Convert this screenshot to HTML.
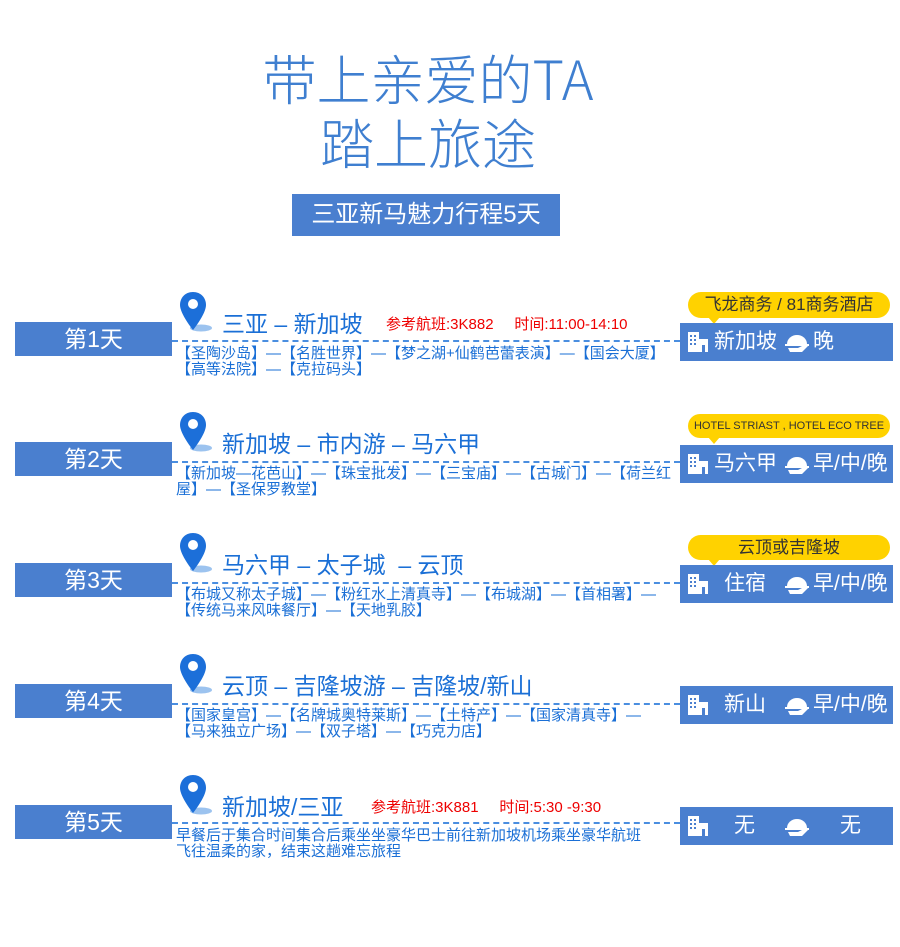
<!DOCTYPE html>
<html><head><meta charset="utf-8"><style>
body{margin:0;width:900px;height:947px;background:#fff;position:relative;overflow:hidden;font-family:"Liberation Sans","Noto Sans CJK SC",sans-serif;}
.a{position:absolute;white-space:nowrap}
.lbl{position:absolute;left:15px;width:157px;height:34px;background:#4a7fcf;color:#fff;font-size:23px;line-height:34px;text-align:center}
.ttl{position:absolute;left:222px;font-size:23px;color:#1a6fd6;white-space:nowrap}
.red{position:absolute;font-size:15px;color:#e00;white-space:nowrap}
.dash{position:absolute;left:172px;width:508px;border-top:2px dashed #4a8ee0}
.it{position:absolute;left:176px;width:502px;font-size:15px;line-height:16px;color:#1a6fd6}
.rb{position:absolute;left:680px;width:213px;height:38px;background:#4a7fcf;color:#fff;font-size:21px;line-height:38px}
.bub{position:absolute;background:#ffd200;border-radius:14px;color:#333;text-align:center;white-space:nowrap}
.bub:after{content:"";position:absolute;left:20px;bottom:-6px;border-left:6px solid transparent;border-right:6px solid transparent;border-top:7px solid #ffd200}
.pin{position:absolute;left:177px;width:36px;height:44px}
.hd{font-family:"Noto Sans CJK SC","Liberation Sans",sans-serif;font-weight:300}
</style></head><body>
<div class="a hd" style="left:0;width:856px;text-align:center;top:42px;font-size:54px;color:#3f7fd0;line-height:70px">带上亲爱的TA</div>
<div class="a hd" style="left:0;width:856px;text-align:center;top:106px;font-size:54px;color:#3f7fd0;line-height:70px">踏上旅途</div>
<div class="a" style="left:292px;top:194px;width:268px;height:42px;background:#4a7fcf;color:#fff;font-size:24px;line-height:42px;text-align:center">三亚新马魅力行程5天</div>

<svg width="0" height="0" style="position:absolute"><defs>
<symbol id="pin" viewBox="0 0 36 44"><ellipse cx="24" cy="38" rx="11" ry="3.5" fill="#9cc3ef"/><path d="M16 2C8 2 3 8 3 15c0 9 13 25 13 25s13-16 13-25C29 8 24 2 16 2z" fill="#1c6fd9"/><circle cx="16" cy="14" r="5" fill="#fff"/></symbol>
<symbol id="bld" viewBox="0 0 22 22"><rect x="1" y="1" width="11" height="20" fill="#fff"/><rect x="12" y="8" width="9" height="13" fill="#fff"/><g fill="#4a7fcf"><rect x="3" y="4" width="2" height="2"/><rect x="7" y="4" width="2" height="2"/><rect x="3" y="8" width="2" height="2"/><rect x="7" y="8" width="2" height="2"/><rect x="3" y="12" width="2" height="2"/><rect x="7" y="12" width="2" height="2"/><rect x="15" y="14" width="3" height="7"/></g></symbol>
<symbol id="dish" viewBox="0 0 26 22"><path d="M3 12a10 9 0 0 1 20 0z" fill="#fff"/><rect x="1" y="12" width="24" height="2" fill="#fff"/><path d="M4 16h10l4-2h6l-6 6H6z" fill="#fff"/></symbol>
</defs></svg>

<!-- Day1 -->
<div class="lbl" style="top:322px">第1天</div>
<svg class="pin" style="top:290px"><use href="#pin"/></svg>
<div class="ttl" style="top:305px">三亚 – 新加坡</div>
<div class="red" style="left:386px;top:313px">参考航班:3K882 &nbsp;&nbsp;&nbsp; 时间:11:00-14:10</div>
<div class="dash" style="top:340px"></div>
<div class="it" style="top:346px">【圣陶沙岛】—【名胜世界】—【梦之湖+仙鹤芭蕾表演】—【国会大厦】<br>【高等法院】—【克拉码头】</div>
<div class="bub" style="left:688px;top:292px;width:202px;height:26px;font-size:17px;line-height:26px">飞龙商务 / 81商务酒店</div>
<div class="rb" style="top:323px"><svg style="position:absolute;left:7px;top:8px" width="22" height="22"><use href="#bld"/></svg><span class="a" style="left:34px">新加坡</span><svg style="position:absolute;left:104px;top:9px" width="26" height="22"><use href="#dish"/></svg><span class="a" style="left:133px">晚</span></div>

<!-- Day2 -->
<div class="lbl" style="top:442px">第2天</div>
<svg class="pin" style="top:410px"><use href="#pin"/></svg>
<div class="ttl" style="top:425px">新加坡 – 市内游 – 马六甲</div>
<div class="dash" style="top:461px"></div>
<div class="it" style="top:466px">【新加坡—花芭山】—【珠宝批发】—【三宝庙】—【古城门】—【荷兰红屋】—【圣保罗教堂】</div>
<div class="bub" style="left:688px;top:414px;width:202px;height:24px;font-size:11px;line-height:24px">HOTEL STRIAST , HOTEL ECO TREE</div>
<div class="rb" style="top:445px"><svg style="position:absolute;left:7px;top:8px" width="22" height="22"><use href="#bld"/></svg><span class="a" style="left:34px">马六甲</span><svg style="position:absolute;left:104px;top:9px" width="26" height="22"><use href="#dish"/></svg><span class="a" style="left:133px">早/中/晚</span></div>

<!-- Day3 -->
<div class="lbl" style="top:563px">第3天</div>
<svg class="pin" style="top:531px"><use href="#pin"/></svg>
<div class="ttl" style="top:546px">马六甲 – 太子城 &nbsp;– 云顶</div>
<div class="dash" style="top:582px"></div>
<div class="it" style="top:587px">【布城又称太子城】—【粉红水上清真寺】—【布城湖】—【首相署】—<br>【传统马来风味餐厅】—【天地乳胶】</div>
<div class="bub" style="left:688px;top:535px;width:202px;height:25px;font-size:17px;line-height:25px">云顶或吉隆坡</div>
<div class="rb" style="top:565px"><svg style="position:absolute;left:7px;top:8px" width="22" height="22"><use href="#bld"/></svg><span class="a" style="left:44px">住宿</span><svg style="position:absolute;left:104px;top:9px" width="26" height="22"><use href="#dish"/></svg><span class="a" style="left:133px">早/中/晚</span></div>

<!-- Day4 -->
<div class="lbl" style="top:684px">第4天</div>
<svg class="pin" style="top:652px"><use href="#pin"/></svg>
<div class="ttl" style="top:667px">云顶 – 吉隆坡游 – 吉隆坡/新山</div>
<div class="dash" style="top:703px"></div>
<div class="it" style="top:708px">【国家皇宫】—【名牌城奥特莱斯】—【土特产】—【国家清真寺】—<br>【马来独立广场】—【双子塔】—【巧克力店】</div>
<div class="rb" style="top:686px"><svg style="position:absolute;left:7px;top:8px" width="22" height="22"><use href="#bld"/></svg><span class="a" style="left:44px">新山</span><svg style="position:absolute;left:104px;top:9px" width="26" height="22"><use href="#dish"/></svg><span class="a" style="left:133px">早/中/晚</span></div>

<!-- Day5 -->
<div class="lbl" style="top:805px">第5天</div>
<svg class="pin" style="top:773px"><use href="#pin"/></svg>
<div class="ttl" style="top:788px">新加坡/三亚</div>
<div class="red" style="left:371px;top:796px">参考航班:3K881 &nbsp;&nbsp;&nbsp; 时间:5:30 -9:30</div>
<div class="dash" style="top:822px"></div>
<div class="it" style="top:828px">早餐后于集合时间集合后乘坐坐豪华巴士前往新加坡机场乘坐豪华航班<br>飞往温柔的家，结束这趟难忘旅程</div>
<div class="rb" style="top:807px"><svg style="position:absolute;left:7px;top:8px" width="22" height="22"><use href="#bld"/></svg><span class="a" style="left:54px">无</span><svg style="position:absolute;left:104px;top:9px" width="26" height="22"><use href="#dish"/></svg><span class="a" style="left:160px">无</span></div>
</body></html>
